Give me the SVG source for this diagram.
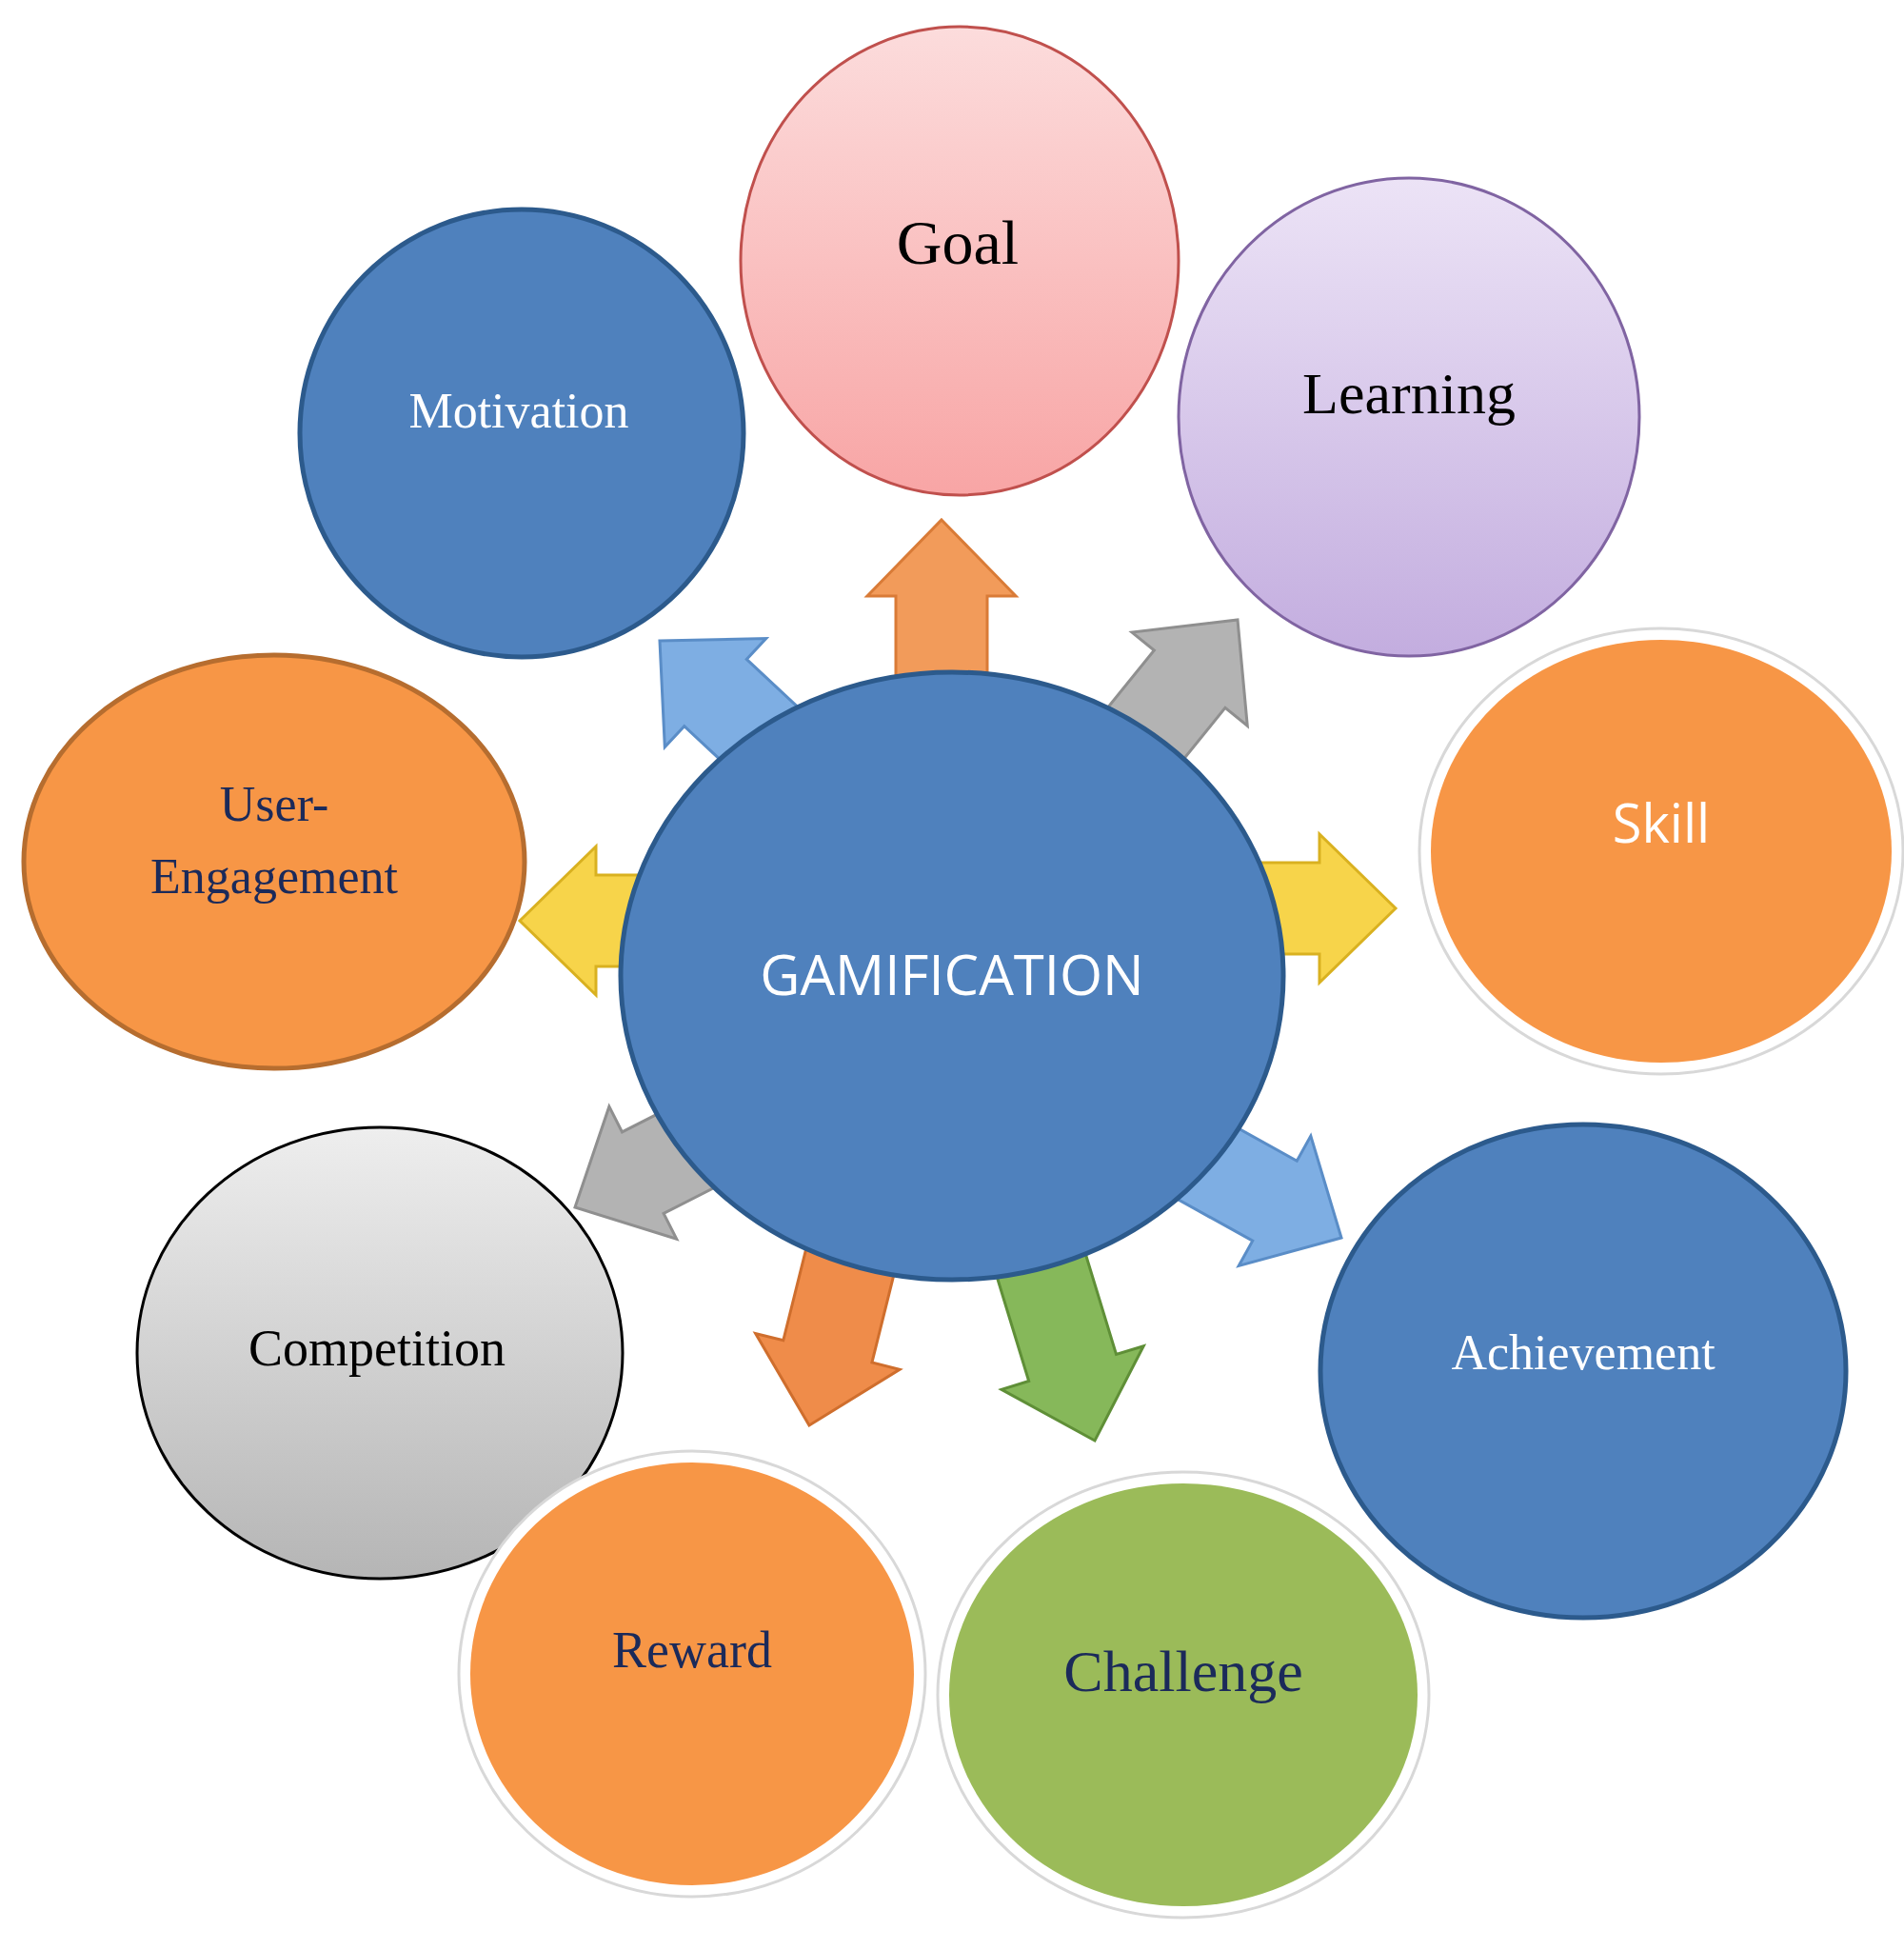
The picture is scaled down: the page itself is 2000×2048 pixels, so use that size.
<svg xmlns="http://www.w3.org/2000/svg" width="2000" height="2048" viewBox="0 0 2000 2048">
<defs>
<linearGradient id="gPink" x1="0" y1="0" x2="0" y2="1"><stop offset="0" stop-color="#fcdcdc"/><stop offset="1" stop-color="#f8a5a5"/></linearGradient>
<linearGradient id="gPurple" x1="0" y1="0" x2="0" y2="1"><stop offset="0" stop-color="#ece3f6"/><stop offset="1" stop-color="#c3addf"/></linearGradient>
<linearGradient id="gGray" x1="0" y1="0" x2="0" y2="1"><stop offset="0" stop-color="#eeeeee"/><stop offset="1" stop-color="#b5b5b5"/></linearGradient>
<path id="arr" d="M0,0 L78,80 L48,80 L48,210 L-48,210 L-48,80 L-78,80 Z"/>
</defs>
<style>
.serif{font-family:"Liberation Serif","Times New Roman",serif;text-anchor:middle}
.sans{font-family:"Open Sans","Liberation Sans",sans-serif;text-anchor:middle}
.halo{fill:#fff;stroke:#d8d8d8;stroke-width:3}
.arrow use{stroke-width:3}
</style>
<rect width="2000" height="2048" fill="#fff"/>
<g id="connectors" class="arrow">
<use href="#arr" transform="translate(989,546) rotate(0)" fill="#f29b5a" stroke="#d97b37"/>
<use href="#arr" transform="translate(1300,651) rotate(39)" fill="#b3b3b3" stroke="#8f8f8f"/>
<use href="#arr" transform="translate(1466,954) rotate(90)" fill="#f7d44a" stroke="#d9b120"/>
<use href="#arr" transform="translate(1409,1300) rotate(119)" fill="#7eaee3" stroke="#5a8dc7"/>
<use href="#arr" transform="translate(1150,1513) rotate(163)" fill="#86b85a" stroke="#5f8f37"/>
<use href="#arr" transform="translate(850,1497) rotate(194)" fill="#ef8c4a" stroke="#cf6e2d"/>
<use href="#arr" transform="translate(604,1268) rotate(243)" fill="#b3b3b3" stroke="#8f8f8f"/>
<use href="#arr" transform="translate(546,967) rotate(270)" fill="#f7d44a" stroke="#d9b120"/>
<use href="#arr" transform="translate(693,673) rotate(313)" fill="#7eaee3" stroke="#5a8dc7"/>
</g>
<g id="goal"><ellipse cx="1008" cy="274" rx="230" ry="246" fill="url(#gPink)" stroke="#c0504d" stroke-width="3"/><text class="serif" x="1006" y="277" font-size="66" fill="#000">Goal</text></g>
<g id="learning"><ellipse cx="1480" cy="438" rx="242" ry="251" fill="url(#gPurple)" stroke="#8064a2" stroke-width="3"/><text class="serif" x="1480" y="434" font-size="62" fill="#000">Learning</text></g>
<g id="motivation"><ellipse cx="548" cy="455" rx="233" ry="235" fill="#4f81bd" stroke="#2c5a8c" stroke-width="5"/><text class="serif" x="545" y="449" font-size="52" fill="#fff">Motivation</text></g>
<g id="user-engagement"><ellipse cx="288" cy="905" rx="263" ry="217" fill="#f79646" stroke="#b66d2f" stroke-width="5"/><text class="serif" x="288" y="862" font-size="52" fill="#1b2a5a">User-</text><text class="serif" x="288" y="938" font-size="52" fill="#1b2a5a">Engagement</text></g>
<g id="skill"><ellipse class="halo" cx="1745" cy="894" rx="254" ry="234"/><ellipse cx="1745" cy="894" rx="242" ry="222" fill="#f79646"/><text class="sans" x="1745" y="885" font-size="56" fill="#fff">Skill</text></g>
<g id="achievement"><ellipse cx="1663" cy="1440" rx="276" ry="259" fill="#4f81bd" stroke="#2c5a8c" stroke-width="5"/><text class="serif" x="1663" y="1438" font-size="52" fill="#fff">Achievement</text></g>
<g id="competition"><ellipse cx="399" cy="1421" rx="255" ry="237" fill="url(#gGray)" stroke="#000" stroke-width="3"/><text class="serif" x="396" y="1434" font-size="54" fill="#000">Competition</text></g>
<g id="reward"><ellipse class="halo" cx="727" cy="1758" rx="245" ry="234"/><ellipse cx="727" cy="1758" rx="233" ry="222" fill="#f79646"/><text class="serif" x="727" y="1751" font-size="54" fill="#1b2a5a">Reward</text></g>
<g id="challenge"><ellipse class="halo" cx="1243" cy="1780" rx="258" ry="234"/><ellipse cx="1243" cy="1780" rx="246" ry="222" fill="#9bbb59"/><text class="serif" x="1243" y="1776" font-size="62" fill="#1b2a5a">Challenge</text></g>
<g id="gamification"><ellipse cx="1000" cy="1025" rx="348" ry="319" fill="#4f81bd" stroke="#2c5a8c" stroke-width="5"/><text class="sans" x="1000" y="1045" font-size="58" fill="#fff">GAMIFICATION</text></g>
</svg>
